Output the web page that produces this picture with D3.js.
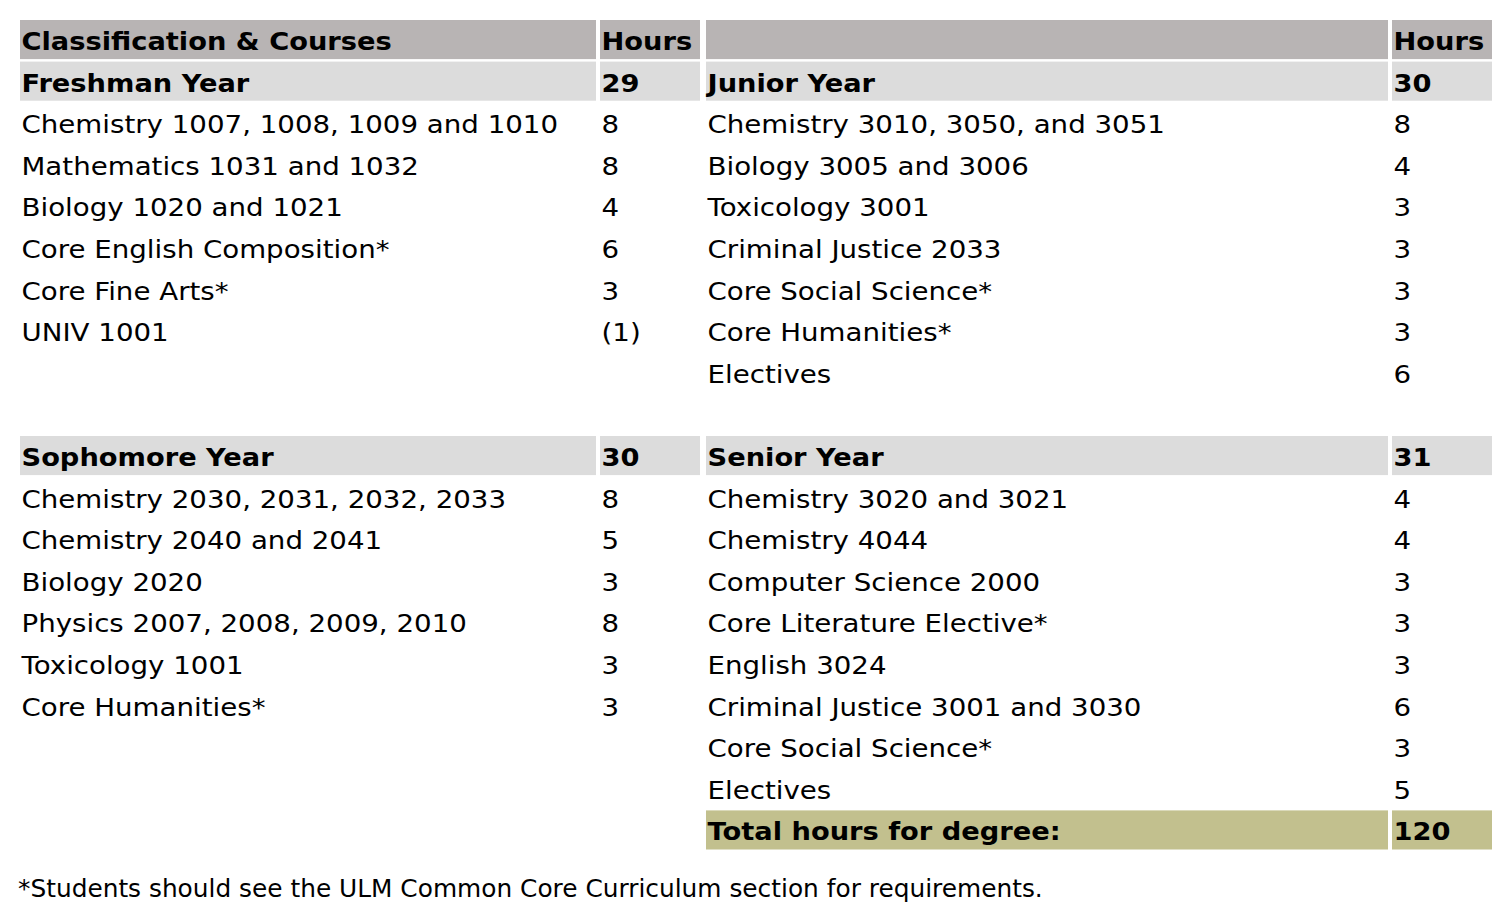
<!DOCTYPE html><html><head><meta charset="utf-8"><script src="https://cdn.jsdelivr.net/npm/d3@7"></script>
<style>body{margin:0;background:#fff}</style></head><body><svg id="c" width="1510" height="912"></svg><script>
const headers=[["Classification & Courses","Hours"],["","Hours"]];
const freshman=[["Chemistry 1007, 1008, 1009 and 1010","8"],["Mathematics 1031 and 1032","8"],["Biology 1020 and 1021","4"],["Core English Composition*","6"],["Core Fine Arts*","3"],["UNIV 1001","(1)"]];
const junior=[["Chemistry 3010, 3050, and 3051","8"],["Biology 3005 and 3006","4"],["Toxicology 3001","3"],["Criminal Justice 2033","3"],["Core Social Science*","3"],["Core Humanities*","3"],["Electives","6"]];
const sophomore=[["Chemistry 2030, 2031, 2032, 2033","8"],["Chemistry 2040 and 2041","5"],["Biology 2020","3"],["Physics 2007, 2008, 2009, 2010","8"],["Toxicology 1001","3"],["Core Humanities*","3"]];
const senior=[["Chemistry 3020 and 3021","4"],["Chemistry 4044","4"],["Computer Science 2000","3"],["Core Literature Elective*","3"],["English 3024","3"],["Criminal Justice 3001 and 3030","6"],["Core Social Science*","3"],["Electives","5"]];
const years=[["Freshman Year","29"],["Junior Year","30"],["Sophomore Year","30"],["Senior Year","31"]];
const total=["Total hours for degree:","120"];
const footnote="*Students should see the ULM Common Core Curriculum section for requirements.";

const svg=d3.select("#c");
const y=d3.scaleLinear().domain([0,1]).range([20,61.6]);
const cols=[{x:20,w:576},{x:600,w:100},{x:706,w:682},{x:1392,w:100}];
const font="DejaVu Sans, Verdana, sans-serif";
function row(side,i,cells,fill,bold){
  const c=[cols[side*2],cols[side*2+1]];
  c.forEach((col,k)=>{
    if(fill) svg.append("rect").attr("x",col.x).attr("y",y(i)).attr("width",col.w).attr("height",y(1)-y(0)-2.5).attr("fill",fill);
    const sx=bold?1.07:1.085, tx=col.x+1.5;
    svg.append("text").attr("transform",`translate(${tx},${y(i)+30}) scale(${sx},1)`).attr("font-family",font).attr("font-size",25.5)
      .attr("font-weight",bold?"bold":"normal").attr("fill","#000").text(cells[k]);
  });
}
headers.forEach((h,s)=>row(s,0,h,"#b8b4b4",true));
row(0,1,years[0],"#dcdcdc",true);row(1,1,years[1],"#dcdcdc",true);
freshman.forEach((r,i)=>row(0,2+i,r));
junior.forEach((r,i)=>row(1,2+i,r));
row(0,10,years[2],"#dcdcdc",true);row(1,10,years[3],"#dcdcdc",true);
sophomore.forEach((r,i)=>row(0,11+i,r));
senior.forEach((r,i)=>row(1,11+i,r));
row(1,19,total,"#c2c08e",true);
svg.append("text").attr("transform","translate(18,897) scale(1.035,1)").attr("font-family",font).attr("font-size",24).text(footnote);
</script></body></html>
